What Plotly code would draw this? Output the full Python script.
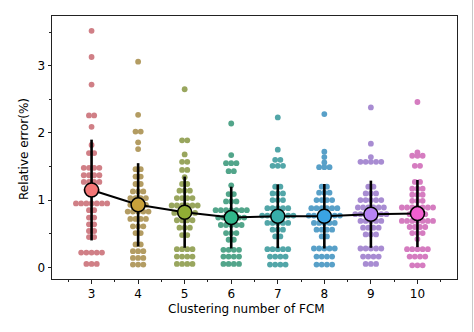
import plotly.graph_objects as go
from collections import Counter

# ---------------- data ----------------
clusters = [3, 4, 5, 6, 7, 8, 9, 10]

err_k3 = [3.52, 3.13, 2.72, 2.26, 2.26, 2.09, 1.82, 1.70, 1.70,
          1.48, 1.48, 1.48, 1.48, 1.37, 1.37, 1.37, 1.37,
          1.27, 1.27, 1.27, 1.27, 1.15, 1.15, 1.15,
          0.95, 0.95, 0.95, 0.95, 0.95, 0.95, 0.95,
          0.85, 0.85, 0.74, 0.74, 0.64, 0.64, 0.54, 0.54, 0.45, 0.45,
          0.22, 0.22, 0.22, 0.22, 0.22, 0.05, 0.05, 0.05]
err_k4 = [3.06, 2.27, 2.02, 2.02, 1.86, 1.76, 1.46, 1.46, 1.35, 1.35,
          1.24, 1.24, 1.13, 1.13, 1.13, 1.03, 1.03, 1.03, 1.03,
          0.93, 0.93, 0.93, 0.93, 0.83, 0.83, 0.83, 0.83, 0.83,
          0.72, 0.72, 0.72, 0.72, 0.61, 0.61, 0.61, 0.51, 0.51,
          0.34, 0.34, 0.24, 0.24, 0.24, 0.14, 0.14, 0.14, 0.04, 0.04, 0.04]
err_k5 = [2.65, 1.89, 1.89, 1.68, 1.57, 1.57, 1.45, 1.45, 1.34,
          1.24, 1.24, 1.14, 1.14, 1.14, 1.03, 1.03, 1.03, 1.03,
          0.92, 0.92, 0.92, 0.92, 0.92, 0.92, 0.81, 0.81, 0.81, 0.81, 0.81,
          0.70, 0.70, 0.70, 0.70, 0.59, 0.59, 0.59, 0.48, 0.48,
          0.27, 0.27, 0.27, 0.27, 0.16, 0.16, 0.16, 0.16, 0.05, 0.05, 0.05, 0.05]
err_k6 = [2.14, 1.67, 1.55, 1.55, 1.55, 1.43, 1.43, 1.22, 1.09, 1.09,
          0.98, 0.98, 0.98, 0.85, 0.85, 0.85, 0.85, 0.85, 0.85, 0.85,
          0.74, 0.74, 0.74, 0.74, 0.74, 0.74, 0.63, 0.63, 0.63, 0.63, 0.63,
          0.51, 0.51, 0.51, 0.41, 0.41, 0.26, 0.26, 0.26, 0.26,
          0.16, 0.16, 0.16, 0.16, 0.05, 0.05, 0.05, 0.05]
err_k7 = [2.23, 1.75, 1.60, 1.60, 1.51, 1.51, 1.51, 1.20, 1.20,
          1.10, 1.10, 1.10, 1.00, 1.00, 1.00, 0.88, 0.88, 0.88, 0.88, 0.88,
          0.77, 0.77, 0.77, 0.77, 0.77, 0.77, 0.77, 0.66, 0.66, 0.66, 0.66, 0.66,
          0.56, 0.56, 0.56, 0.46, 0.46, 0.27, 0.27, 0.27, 0.27, 0.27,
          0.16, 0.16, 0.16, 0.16, 0.04, 0.04, 0.04, 0.04]
err_k8 = [2.28, 1.72, 1.64, 1.56, 1.49, 1.49, 1.49, 1.20, 1.20,
          1.11, 1.11, 1.11, 1.00, 1.00, 1.00, 1.00,
          0.88, 0.88, 0.88, 0.88, 0.88, 0.88,
          0.77, 0.77, 0.77, 0.77, 0.77, 0.77, 0.77, 0.66, 0.66, 0.66, 0.66, 0.66,
          0.56, 0.56, 0.56, 0.56, 0.46, 0.46, 0.28, 0.28, 0.28, 0.28, 0.28,
          0.16, 0.16, 0.16, 0.16, 0.04, 0.04, 0.04, 0.04]
err_k9 = [2.38, 1.84, 1.64, 1.57, 1.57, 1.57, 1.57, 1.57, 1.20, 1.20,
          1.10, 1.10, 1.10, 1.00, 1.00, 1.00, 1.00, 1.00,
          0.89, 0.89, 0.89, 0.89, 0.89, 0.89,
          0.79, 0.79, 0.79, 0.79, 0.79, 0.79, 0.79, 0.69, 0.69, 0.69, 0.69, 0.69,
          0.59, 0.59, 0.59, 0.59, 0.49, 0.49, 0.49, 0.28, 0.28, 0.28, 0.28, 0.28,
          0.16, 0.16, 0.16, 0.16, 0.05, 0.05, 0.05]
err_k10 = [2.46, 1.71, 1.66, 1.66, 1.66, 1.51, 1.51, 1.27, 1.27,
           1.17, 1.17, 1.17, 1.08, 1.08, 1.08, 0.99, 0.99, 0.99,
           0.89, 0.89, 0.89, 0.89, 0.89, 0.89, 0.89, 0.79, 0.79, 0.79, 0.79,
           0.69, 0.69, 0.69, 0.69, 0.69, 0.69, 0.69, 0.60, 0.60, 0.60, 0.60,
           0.51, 0.51, 0.51, 0.42, 0.27, 0.27, 0.27, 0.27, 0.27,
           0.16, 0.16, 0.16, 0.16, 0.03, 0.03, 0.03]

errors = [err_k3, err_k4, err_k5, err_k6, err_k7, err_k8, err_k9, err_k10]

mean_err = [1.15, 0.93, 0.82, 0.74, 0.76, 0.76, 0.79, 0.80]
sd_err = [0.75, 0.62, 0.53, 0.46, 0.475, 0.48, 0.50, 0.50]

dot_colors = ["#d07f86", "#b39c62", "#99a65e", "#52a58a",
              "#52a6a8", "#58a0c8", "#a88cd2", "#d57cc0"]
mean_colors = ["#f47676", "#c9a13a", "#90ad34", "#30b68a",
               "#37aeaa", "#3aa3e3", "#b784f4", "#f25fcf"]

x_ticks = [3, 4, 5, 6, 7, 8, 9, 10]
y_ticks = [0, 1, 2, 3]

# ---------------- layout geometry ----------------
W, H = 474, 332
ml, mr, mt, mb = 52, 17, 16, 53
x_range = [2.15, 10.85]
y_range = [-0.174, 3.74]
pw = W - ml - mr
ph = H - mt - mb
px_per_x = pw / (x_range[1] - x_range[0])
dot_step_px = 5.2


def swarm(vals, center):
    xs, ys = [], []
    for v, n in sorted(Counter(vals).items()):
        for i in range(n):
            xs.append(center + (i - (n - 1) / 2) * dot_step_px / px_per_x)
            ys.append(v)
    return xs, ys


fig = go.Figure()

for c, vals, col in zip(clusters, errors, dot_colors):
    xs, ys = swarm(vals, c)
    fig.add_trace(go.Scatter(
        x=xs, y=ys, mode="markers",
        marker=dict(size=5.8, color=col, line=dict(width=0)),
        showlegend=False, hoverinfo="skip"))

fig.add_trace(go.Scatter(
    x=clusters, y=mean_err, mode="lines+markers",
    line=dict(color="black", width=2),
    marker=dict(size=14, color=mean_colors, line=dict(color="black", width=1.5)),
    error_y=dict(type="data", array=sd_err, color="black", thickness=2.6, width=0),
    showlegend=False))

axis_common = dict(
    showline=True, linecolor="#222", linewidth=1, mirror=True,
    ticks="outside", ticklen=3.5, tickwidth=1, tickcolor="#222",
    showgrid=False, zeroline=False,
    tickfont=dict(family="DejaVu Sans", size=12, color="black"),
)

fig.update_xaxes(range=x_range, tickvals=x_ticks, ticktext=[str(t) for t in x_ticks],
                 minor=dict(ticks="outside", ticklen=2, tickwidth=1, tickcolor="#222",
                            tickvals=[t + 0.5 for t in [2] + x_ticks]),
                 **axis_common)
fig.update_yaxes(range=y_range, tickvals=y_ticks, ticktext=[str(t) for t in y_ticks],
                 minor=dict(ticks="outside", ticklen=2, tickwidth=1, tickcolor="#222",
                            tickvals=[0.5, 1.5, 2.5, 3.5]),
                 **axis_common)

fig.update_layout(
    width=W, height=H,
    margin=dict(l=ml, r=mr, t=mt, b=mb),
    paper_bgcolor="white", plot_bgcolor="white",
    font=dict(family="DejaVu Sans", size=12, color="black"),
    annotations=[
        dict(text="Clustering number of FCM", xref="paper", yref="paper",
             x=(246 - ml) / pw, y=-(309 - (H - mb)) / ph - 0.0,
             xanchor="center", yanchor="middle", showarrow=False,
             font=dict(family="DejaVu Sans", size=12, color="black")),
        dict(text="Relative error(%)", xref="paper", yref="paper",
             x=-(ml - 24) / pw, y=1 - (149 - mt) / ph, textangle=-90,
             xanchor="center", yanchor="middle", showarrow=False,
             font=dict(family="DejaVu Sans", size=12, color="black")),
    ],
    shapes=[dict(type="line", xref="paper", yref="paper",
                 x0=(472.5 - ml) / pw, x1=(472.5 - ml) / pw,
                 y0=-(H - mt - ph) / ph - 0.2, y1=1 + mt / ph,
                 line=dict(color="#c8c8c8", width=1))],
)

fig.write_html("out.html")
